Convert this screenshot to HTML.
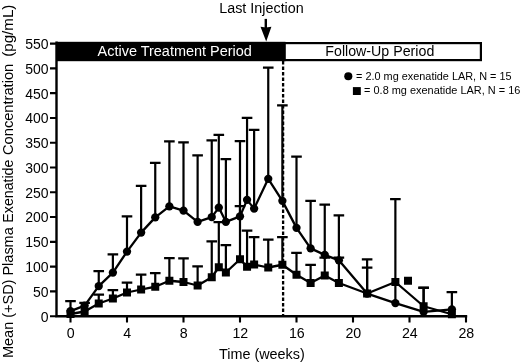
<!DOCTYPE html>
<html><head><meta charset="utf-8"><title>Plasma exenatide</title>
<style>html,body{margin:0;padding:0;background:#fff}svg{display:block}text{font-family:"Liberation Sans",Arial,sans-serif;fill:#000}</style></head><body>
<svg width="520" height="363" viewBox="0 0 520 363">
<rect width="520" height="363" fill="#fff"/>
<rect x="56.5" y="41.8" width="229" height="19.4" fill="#000"/>
<rect x="284.7" y="43.1" width="196.2" height="17" fill="#fff" stroke="#000" stroke-width="2.2"/>
<text x="97.6" y="56.3" font-size="14" textLength="154.3" lengthAdjust="spacingAndGlyphs" style="fill:#fff">Active Treatment Period</text>
<text x="325.3" y="56" font-size="14" textLength="109" lengthAdjust="spacingAndGlyphs">Follow-Up Period</text>
<text x="219.2" y="12.8" font-size="14" textLength="84.6" lengthAdjust="spacingAndGlyphs">Last Injection</text>
<path d="M265.8 18.9V29" stroke="#000" stroke-width="2.4" fill="none"/>
<path d="M266.2 41.4L260.5 26.7L266 27.6L271.4 26.7Z" fill="#000"/>
<path d="M283.1 61V316" stroke="#000" stroke-width="2.3" stroke-dasharray="3.6 1.9" fill="none"/>
<path d="M98.75 303.50V294.70M93.45 294.70H104.05M112.88 298.50V290.20M107.58 290.20H118.18M127.0 292.50V282.70M121.70 282.70H132.30M141.12 289.50V274.70M135.82 274.70H146.42M155.25 286.75V273.20M149.95 273.20H160.55M169.38 280.75V258.20M164.08 258.20H174.68M183.5 282.00V258.45M178.20 258.45H188.80M197.62 285.50V266.45M192.32 266.45H202.92M211.75 277.25V241.45M206.45 241.45H217.05M218.81 267.25V222.20M213.51 222.20H224.11M225.88 272.50V245.20M220.58 245.20H231.18M240.0 259.25V206.20M234.70 206.20H245.30M247.06 266.75V230.70M241.76 230.70H252.36M254.12 264.50V237.20M248.82 237.20H259.42M268.25 267.50V239.70M262.95 239.70H273.55M282.38 264.75V237.20M277.08 237.20H287.68M296.5 274.75V252.95M291.20 252.95H301.80M310.62 283.00V264.95M305.32 264.95H315.92M324.75 275.50V257.70M319.45 257.70H330.05M338.88 283.00V257.70M333.58 257.70H344.18M367.12 293.50V267.70M361.82 267.70H372.42M423.62 306.25V287.70M418.32 287.70H428.92" stroke="#000" stroke-width="2.2" fill="none"/>
<path d="M70.5 311.10V301.05M65.20 301.05H75.80M84.62 305.60V302.80M79.32 302.80H89.92M98.75 286.10V271.05M93.45 271.05H104.05M112.88 272.60V254.30M107.58 254.30H118.18M127.0 251.60V216.30M121.70 216.30H132.30M141.12 232.60V185.80M135.82 185.80H146.42M155.25 217.35V162.80M149.95 162.80H160.55M169.38 206.35V141.30M164.08 141.30H174.68M183.5 210.60V142.30M178.20 142.30H188.80M197.62 221.85V155.30M192.32 155.30H202.92M211.75 217.10V140.30M206.45 140.30H217.05M218.81 207.60V134.80M213.51 134.80H224.11M225.88 221.85V159.05M220.58 159.05H231.18M240.0 216.35V141.05M234.70 141.05H245.30M247.06 199.85V117.80M241.76 117.80H252.36M254.12 208.60V129.80M248.82 129.80H259.42M268.25 178.85V67.70M262.95 67.70H273.55M282.38 200.85V105.30M277.08 105.30H287.68M296.5 227.85V156.55M291.20 156.55H301.80M310.62 248.35V200.80M305.32 200.80H315.92M324.75 254.85V204.55M319.45 204.55H330.05M338.88 260.35V215.30M333.58 215.30H344.18M367.12 293.60V259.30M361.82 259.30H372.42M395.38 303.10V199.05M390.08 199.05H400.68M423.62 311.85V287.80M418.32 287.80H428.92M451.88 309.35V292.05M446.58 292.05H457.18" stroke="#000" stroke-width="2.2" fill="none"/>
<polyline points="70.5,314.00 84.62,311.50 98.75,303.50 112.88,298.50 127.0,292.50 141.12,289.50 155.25,286.75 169.38,280.75 183.5,282.00 197.62,285.50 211.75,277.25 218.81,267.25 225.88,272.50 240.0,259.25 247.06,266.75 254.12,264.50 268.25,267.50 282.38,264.75 296.5,274.75 310.62,283.00 324.75,275.50 338.88,283.00 367.12,293.50 395.38,282.00 423.62,306.25 451.88,314.25" stroke="#000" stroke-width="2.3" fill="none" stroke-linejoin="round"/>
<polyline points="70.5,311.10 84.62,305.60 98.75,286.10 112.88,272.60 127.0,251.60 141.12,232.60 155.25,217.35 169.38,206.35 183.5,210.60 197.62,221.85 211.75,217.10 218.81,207.60 225.88,221.85 240.0,216.35 247.06,199.85 254.12,208.60 268.25,178.85 282.38,200.85 296.5,227.85 310.62,248.35 324.75,254.85 338.88,260.35 367.12,293.60 395.38,303.10 423.62,311.85 451.88,309.35" stroke="#000" stroke-width="2.3" fill="none" stroke-linejoin="round"/>
<rect x="66.50" y="310.00" width="8.0" height="8.0"/>
<rect x="80.62" y="307.50" width="8.0" height="8.0"/>
<rect x="94.75" y="299.50" width="8.0" height="8.0"/>
<rect x="108.88" y="294.50" width="8.0" height="8.0"/>
<rect x="123.00" y="288.50" width="8.0" height="8.0"/>
<rect x="137.12" y="285.50" width="8.0" height="8.0"/>
<rect x="151.25" y="282.75" width="8.0" height="8.0"/>
<rect x="165.38" y="276.75" width="8.0" height="8.0"/>
<rect x="179.50" y="278.00" width="8.0" height="8.0"/>
<rect x="193.62" y="281.50" width="8.0" height="8.0"/>
<rect x="207.75" y="273.25" width="8.0" height="8.0"/>
<rect x="214.81" y="263.25" width="8.0" height="8.0"/>
<rect x="221.88" y="268.50" width="8.0" height="8.0"/>
<rect x="236.00" y="255.25" width="8.0" height="8.0"/>
<rect x="243.06" y="262.75" width="8.0" height="8.0"/>
<rect x="250.12" y="260.50" width="8.0" height="8.0"/>
<rect x="264.25" y="263.50" width="8.0" height="8.0"/>
<rect x="278.38" y="260.75" width="8.0" height="8.0"/>
<rect x="292.50" y="270.75" width="8.0" height="8.0"/>
<rect x="306.62" y="279.00" width="8.0" height="8.0"/>
<rect x="320.75" y="271.50" width="8.0" height="8.0"/>
<rect x="334.88" y="279.00" width="8.0" height="8.0"/>
<rect x="363.12" y="289.50" width="8.0" height="8.0"/>
<rect x="391.38" y="278.00" width="8.0" height="8.0"/>
<rect x="419.62" y="302.25" width="8.0" height="8.0"/>
<rect x="447.88" y="310.25" width="8.0" height="8.0"/>
<rect x="404.00" y="276.75" width="8.0" height="8.0"/>
<circle cx="70.5" cy="311.10" r="4.15"/>
<circle cx="84.62" cy="305.60" r="4.15"/>
<circle cx="98.75" cy="286.10" r="4.15"/>
<circle cx="112.88" cy="272.60" r="4.15"/>
<circle cx="127.0" cy="251.60" r="4.15"/>
<circle cx="141.12" cy="232.60" r="4.15"/>
<circle cx="155.25" cy="217.35" r="4.15"/>
<circle cx="169.38" cy="206.35" r="4.15"/>
<circle cx="183.5" cy="210.60" r="4.15"/>
<circle cx="197.62" cy="221.85" r="4.15"/>
<circle cx="211.75" cy="217.10" r="4.15"/>
<circle cx="218.81" cy="207.60" r="4.15"/>
<circle cx="225.88" cy="221.85" r="4.15"/>
<circle cx="240.0" cy="216.35" r="4.15"/>
<circle cx="247.06" cy="199.85" r="4.15"/>
<circle cx="254.12" cy="208.60" r="4.15"/>
<circle cx="268.25" cy="178.85" r="4.15"/>
<circle cx="282.38" cy="200.85" r="4.15"/>
<circle cx="296.5" cy="227.85" r="4.15"/>
<circle cx="310.62" cy="248.35" r="4.15"/>
<circle cx="324.75" cy="254.85" r="4.15"/>
<circle cx="338.88" cy="260.35" r="4.15"/>
<circle cx="367.12" cy="293.60" r="4.15"/>
<circle cx="395.38" cy="303.10" r="4.15"/>
<circle cx="423.62" cy="311.85" r="4.15"/>
<circle cx="451.88" cy="309.35" r="4.15"/>
<path d="M56.5 41.6V317.4M55.3 316.2H467.2" stroke="#000" stroke-width="2.4" fill="none"/>
<path d="M50 316.20H56.5M50 291.42H56.5M50 266.64H56.5M50 241.85H56.5M50 217.07H56.5M50 192.29H56.5M50 167.51H56.5M50 142.73H56.5M50 117.94H56.5M50 93.16H56.5M50 68.38H56.5M50 43.60H56.5M70.5 316V322.6M127.0 316V322.6M183.5 316V322.6M240.0 316V322.6M296.5 316V322.6M353.0 316V322.6M409.5 316V322.6M466.0 316V322.6" stroke="#000" stroke-width="2.1" fill="none"/>
<text x="48.5" y="321.60" font-size="14" text-anchor="end">0</text>
<text x="48.5" y="296.82" font-size="14" text-anchor="end">50</text>
<text x="48.5" y="272.04" font-size="14" text-anchor="end">100</text>
<text x="48.5" y="247.25" font-size="14" text-anchor="end">150</text>
<text x="48.5" y="222.47" font-size="14" text-anchor="end">200</text>
<text x="48.5" y="197.69" font-size="14" text-anchor="end">250</text>
<text x="48.5" y="172.91" font-size="14" text-anchor="end">300</text>
<text x="48.5" y="148.13" font-size="14" text-anchor="end">350</text>
<text x="48.5" y="123.34" font-size="14" text-anchor="end">400</text>
<text x="48.5" y="98.56" font-size="14" text-anchor="end">450</text>
<text x="48.5" y="73.78" font-size="14" text-anchor="end">500</text>
<text x="48.5" y="49.00" font-size="14" text-anchor="end">550</text>
<text x="70.8" y="338.4" font-size="14.2" text-anchor="middle">0</text>
<text x="127.3" y="338.4" font-size="14.2" text-anchor="middle">4</text>
<text x="183.8" y="338.4" font-size="14.2" text-anchor="middle">8</text>
<text x="240.3" y="338.4" font-size="14.2" text-anchor="middle">12</text>
<text x="296.8" y="338.4" font-size="14.2" text-anchor="middle">16</text>
<text x="353.3" y="338.4" font-size="14.2" text-anchor="middle">20</text>
<text x="409.8" y="338.4" font-size="14.2" text-anchor="middle">24</text>
<text x="466.3" y="338.4" font-size="14.2" text-anchor="middle">28</text>
<text x="219" y="358.5" font-size="14" textLength="85.8" lengthAdjust="spacingAndGlyphs">Time (weeks)</text>
<text transform="translate(13 358.04) rotate(-90)" font-size="14" textLength="130.78" lengthAdjust="spacingAndGlyphs">Mean (+SD) Plasma</text>
<text transform="translate(13 222.65) rotate(-90)" font-size="14" textLength="63.04" lengthAdjust="spacingAndGlyphs">Exenatide</text>
<text transform="translate(13 154.95) rotate(-90)" font-size="14" textLength="91.12" lengthAdjust="spacingAndGlyphs">Concentration</text>
<text transform="translate(13 56.72) rotate(-90)" font-size="14" textLength="52.07" lengthAdjust="spacingAndGlyphs">(pg/mL)</text>
<circle cx="348.3" cy="76.2" r="4.05"/>
<text x="356.1" y="80.1" font-size="11" textLength="155.4" lengthAdjust="spacingAndGlyphs">= 2.0 mg exenatide LAR, N = 15</text>
<rect x="352.9" y="87.1" width="7.9" height="7.9"/>
<text x="364.1" y="94.3" font-size="11" textLength="156.2" lengthAdjust="spacingAndGlyphs">= 0.8 mg exenatide LAR, N = 16</text>
</svg></body></html>
